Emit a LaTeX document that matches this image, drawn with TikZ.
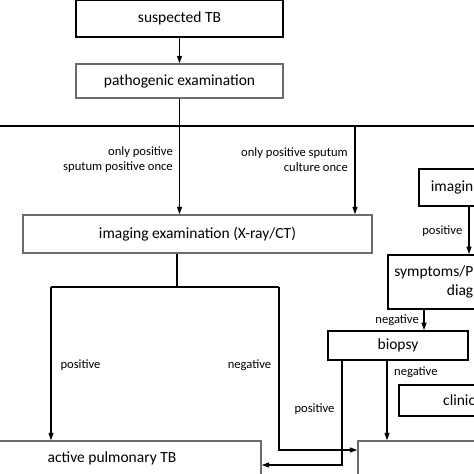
\documentclass[tikz,border=0pt]{standalone}
\usepackage{fontspec}
\setmainfont{Carlito}
\usetikzlibrary{arrows.meta}
\tikzset{
  thickbox/.style={draw=black, line width=1.8pt, inner sep=0pt},
  thinbox/.style={draw=black!58, line width=1.4pt, inner sep=0pt},
  boxtext/.style={font=\fontsize{15.5}{19}\selectfont, inner sep=0pt},
  lbl/.style={font=\fontsize{12.6}{15}\selectfont, inner sep=0pt, align=right},
  conn/.style={draw=black, line width=1.3pt},
  arr/.style={conn, -{Triangle[length=7.5pt,width=5pt]}}
}
\begin{document}
\begin{tikzpicture}[x=1pt,y=-1pt]
\useasboundingbox (0,0) rectangle (474,474);
\clip (0,0) rectangle (474,474);
\fill[white] (0,0) rectangle (474,474);
% boxes
\node[thickbox, boxtext, minimum width=207pt, minimum height=36.5pt] (st) at (179.5,18.75) {suspected TB};
\node[thinbox, boxtext, minimum width=207pt, minimum height=34pt] (pe) at (179.5,81) {pathogenic examination};
\node[thinbox, boxtext, minimum width=349pt, minimum height=38pt] (ie) at (197.5,234) {imaging examination (X-ray/CT)};
\node[thinbox, minimum width=298pt, minimum height=34pt] (apt) at (112,458) {};
\node[boxtext] (apttext) at (112,458) {active pulmonary TB};
\node[thinbox, minimum width=202pt, minimum height=34pt] (br) at (459,458) {};
\node[thickbox, minimum width=141pt, minimum height=37pt] (im) at (489.5,187.5) {};
\node[boxtext, anchor=east] (imtext) at (473.5,187.5) {imagin};
\node[thickbox, minimum width=172pt, minimum height=54pt] (sy) at (474,282) {};
\node[boxtext, anchor=east] (sytext1) at (473.5,272) {symptoms/P};
\node[boxtext, anchor=east] (sytext2) at (473.5,291) {diag};
\node[thickbox, boxtext, minimum width=140pt, minimum height=29pt] (bi) at (398,345.5) {biopsy};
\node[thickbox, minimum width=161pt, minimum height=31pt] (cl) at (479.5,400.5) {};
\node[boxtext, anchor=west] (cltext) at (443,400.5) {clinic};
% coordinates
\coordinate (hl) at (-5,126);
\coordinate (hr) at (480,126);
\coordinate (c1) at (179.5,126);
\coordinate (c2) at (355,126);
\coordinate (sp) at (177,287);
\coordinate (sl) at (51,287);
\coordinate (sr) at (279,287);
\coordinate (nr) at (279,450);
\coordinate (ax) at (469,0);
\coordinate (bx) at (424,0);
\coordinate (p1) at (342,465);
\coordinate (nx) at (387,0);
% connectors
\draw[arr] (st) -- (pe);
\draw[conn] (pe.south) -- (c1);
\draw[conn] (hl) -- (hr);
\draw[arr] (c1) -- (ie.north -| c1);
\draw[arr] (c2) -- (ie.north -| c2);
\draw[conn] (ie.south -| sp) -- (sp);
\draw[conn] (sl) -- (sr);
\draw[arr] (sl) -- (apt.north -| sl);
\draw[arr] (sr) -- (nr) -- (br.west |- nr);
\draw[arr] (im.south -| ax) -- (sy.north -| ax);
\draw[arr] (sy.south -| bx) -- (bi.north -| bx);
\draw[arr] (bi.south -| p1) -- (p1) -- (apt.east |- p1);
\draw[arr] (bi.south -| nx) -- (br.north -| nx);
% labels
\node[lbl, anchor=east] (l1) at (173,160) {only positive\\sputum positive once};
\node[lbl, anchor=east] (l2) at (348,160) {only positive sputum\\culture once};
\node[lbl, anchor=east] (l3) at (462.5,231) {positive};
\node[lbl, anchor=east] (l4) at (419,320) {negative};
\node[lbl] (l5) at (314.5,409) {positive};
\node[lbl, anchor=west] (l6) at (394,372) {negative};
\node[lbl] (l7) at (80.5,365) {positive};
\node[lbl] (l8) at (249.5,365) {negative};
\end{tikzpicture}
\end{document}
